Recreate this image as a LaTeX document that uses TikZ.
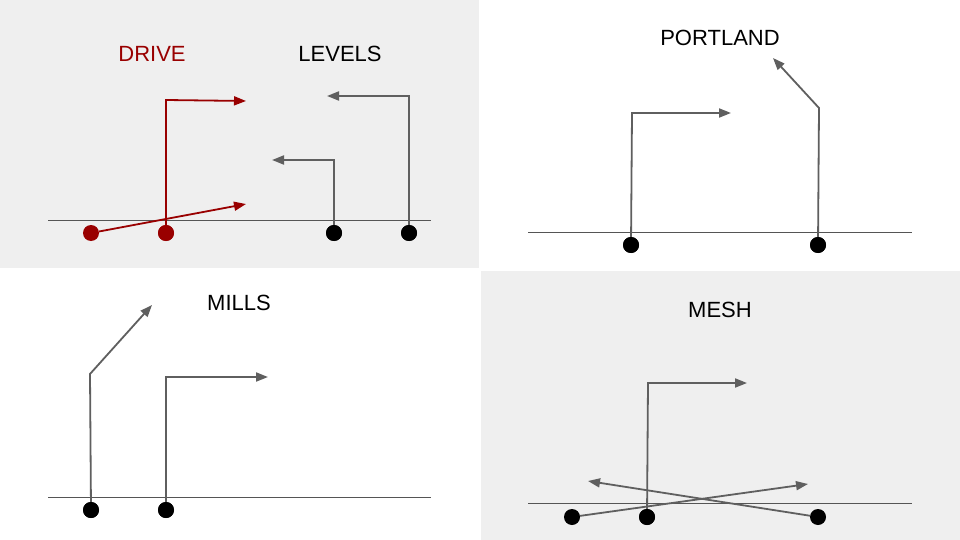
\documentclass[tikz,border=0pt]{standalone}
\usepackage{fontspec}
\setmainfont{Liberation Sans}
\usetikzlibrary{arrows.meta}
\definecolor{panel}{HTML}{EFEFEF}
\definecolor{route}{HTML}{5F5F5F}
\definecolor{drivered}{HTML}{990000}
\definecolor{los}{HTML}{555555}
\tikzset{
  player/.style={circle,fill=black,inner sep=0pt,minimum size=16pt},
  redplayer/.style={player,fill=drivered},
  routeline/.style={draw=route,line width=1.8pt,-{Triangle[length=12pt,width=9pt]}},
  redroute/.style={routeline,draw=drivered,-{Triangle[length=12pt,width=9pt,fill=drivered]}},
  scrim/.style={draw=los,line width=0.8pt},
  title/.style={font=\fontsize{22}{26}\selectfont,inner sep=0pt}
}
\begin{document}
\begin{tikzpicture}[x=1pt,y=-1pt]
\useasboundingbox (0,0) rectangle (960,540);
\fill[white] (0,0) rectangle (960,540);
\fill[panel] (0,0) rectangle (479,268);
\fill[panel] (481,271) rectangle (960,540);

% ---------- DRIVE / LEVELS ----------
\node[title,text=drivered] (tdrive) at (152,54) {DRIVE};
\node[title] (tlevels) at (340,54) {LEVELS};
\coordinate (l1a) at (48,220);
\coordinate (l1b) at (431,220);
\draw[scrim] (l1a) -- (l1b);
\node[redplayer] (d1) at (91,233) {};
\node[redplayer] (d2) at (166,233) {};
\node[player] (v1) at (334,233) {};
\node[player] (v2) at (409,233) {};
\coordinate (d1t) at (246,204);
\coordinate (d2b) at (166,100);
\coordinate (d2t) at (246,101);
\coordinate (v1b) at (334,160);
\coordinate (v1t) at (272,160);
\coordinate (v2b) at (409,96);
\coordinate (v2t) at (327,96);
\draw[redroute] (d1) -- (d1t);
\draw[redroute] (d2.center) -- (d2b) -- (d2t);
\draw[routeline] (v1.center) -- (v1b) -- (v1t);
\draw[routeline] (v2.center) -- (v2b) -- (v2t);
\node[redplayer] at (d2) {};
\node[player] at (v1) {};
\node[player] at (v2) {};

% ---------- PORTLAND ----------
\node[title] (tport) at (720,38) {PORTLAND};
\coordinate (l2a) at (528,232);
\coordinate (l2b) at (912,232);
\draw[scrim] (l2a) -- (l2b);
\node[player] (p1) at (631,245) {};
\node[player] (p2) at (818,245) {};
\coordinate (p1b) at (632,113);
\coordinate (p1t) at (731,113);
\coordinate (p2b) at (819,108);
\coordinate (p2t) at (773,58);
\draw[routeline] (p1.center) -- (p1b) -- (p1t);
\draw[routeline] (p2.center) -- (p2b) -- (p2t);
\node[player] at (p1) {};
\node[player] at (p2) {};

% ---------- MILLS ----------
\node[title] (tmills) at (239,303) {MILLS};
\coordinate (l3a) at (48,497);
\coordinate (l3b) at (431,497);
\draw[scrim] (l3a) -- (l3b);
\node[player] (m1) at (91,510) {};
\node[player] (m2) at (166,510) {};
\coordinate (m1b) at (90,374);
\coordinate (m1t) at (152,305);
\coordinate (m2b) at (166,377);
\coordinate (m2t) at (268,377);
\draw[routeline] (m1.center) -- (m1b) -- (m1t);
\draw[routeline] (m2.center) -- (m2b) -- (m2t);
\node[player] at (m1) {};
\node[player] at (m2) {};

% ---------- MESH ----------
\node[title] (tmesh) at (720,310) {MESH};
\coordinate (l4a) at (528,503);
\coordinate (l4b) at (912,503);
\draw[scrim] (l4a) -- (l4b);
\node[player] (s1) at (572,517) {};
\node[player] (s2) at (647,517) {};
\node[player] (s3) at (818,517) {};
\coordinate (s1t) at (808,484);
\coordinate (s3t) at (588,481);
\coordinate (s2b) at (648,383);
\coordinate (s2t) at (747,383);
\draw[routeline] (s1) -- (s1t);
\draw[routeline] (s3) -- (s3t);
\draw[routeline] (s2.center) -- (s2b) -- (s2t);
\node[player] at (s2) {};
\end{tikzpicture}
\end{document}
